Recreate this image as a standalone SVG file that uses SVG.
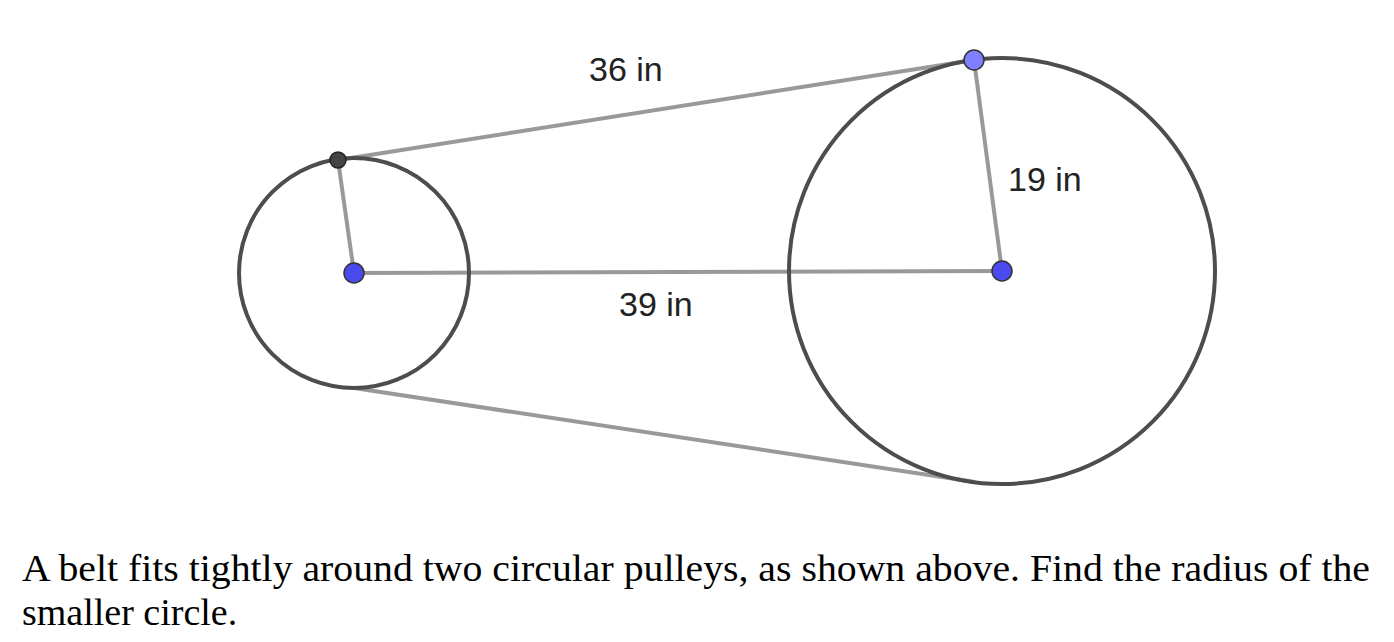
<svg xmlns="http://www.w3.org/2000/svg" width="1394" height="642" viewBox="0 0 1394 642">
<style>
.c{fill:none;stroke:#4d4d4d;stroke-width:4}
.s{stroke:#999;stroke-width:4}
.l{font-family:"Liberation Sans",Arial,sans-serif;font-size:34px;fill:#222}
.t{font-family:"Liberation Serif","Times New Roman",serif;font-size:38px;fill:#000}
.p{stroke:#333;stroke-width:1.5}
</style>
<rect width="1394" height="642" fill="#fff"/>
<g id="connectors">
<line class="s" x1="338" y1="160" x2="974" y2="60"/>
<line class="s" x1="354" y1="388" x2="975" y2="482"/>
<line class="s" x1="354" y1="273" x2="1002" y2="271"/>
<line class="s" x1="354" y1="273" x2="338" y2="160"/>
<line class="s" x1="1002" y1="271" x2="974" y2="60"/>
</g>
<g id="small"><circle class="c" cx="354" cy="273" r="115"/></g>
<g id="large"><circle class="c" cx="1002" cy="271" r="213"/></g>
<g id="points">
<circle cx="338" cy="160" r="8" fill="#444" stroke="#222" stroke-width="1.5"/>
<circle class="p" cx="974" cy="60" r="10" fill="#8080ff"/>
<circle class="p" cx="354" cy="273" r="10" fill="#4a4aee"/>
<circle class="p" cx="1002" cy="271" r="10" fill="#4a4aee"/>
</g>
<g id="labels">
<text class="l" x="589" y="81">36 in</text>
<text class="l" x="1008" y="191">19 in</text>
<text class="l" x="619" y="316">39 in</text>
<text class="t" x="22" y="581" textLength="1348" lengthAdjust="spacingAndGlyphs">A belt fits tightly around two circular pulleys, as shown above. Find the radius of the</text>
<text class="t" x="22" y="625">smaller circle.</text>
</g>
</svg>
